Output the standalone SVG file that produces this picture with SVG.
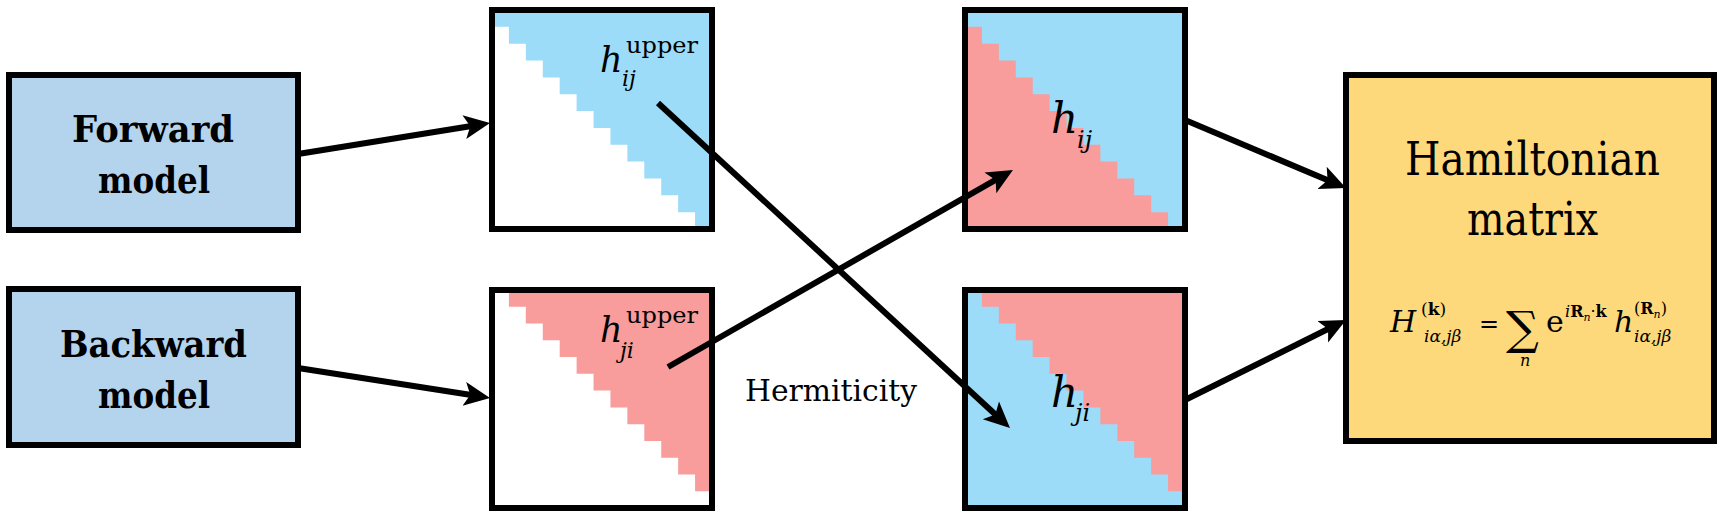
<svg xmlns="http://www.w3.org/2000/svg" xmlns:xlink="http://www.w3.org/1999/xlink" width="1725" height="520" viewBox="0 0 1725 520">
<style>
.box{stroke:#000;stroke-width:6;}
.frame{fill:none;stroke:#000;stroke-width:6;}
.model{fill:#B4D4EE;}
.ham{fill:#FDD97C;}
.blue{fill:#9CDCF8;}
.red{fill:#F89C9C;}
.lbl{font-family:'DejaVu Serif',serif;fill:#000;}
.bold{font-weight:bold;}
.it{font-style:italic;}
.conn{fill:none;stroke:#000;stroke-width:6;marker-end:url(#arrow);}
</style>
<defs>
<marker id="arrow" viewBox="0 0 26 26" refX="12" refY="13" markerWidth="26" markerHeight="26" markerUnits="userSpaceOnUse" orient="auto">
<path d="M0,1 L26,13 L0,25 L6,13 Z" fill="#000"/>
</marker>
<path id="upperIncl" d="M0,0 H13 V13 H12 V12 H11 V11 H10 V10 H9 V9 H8 V8 H7 V7 H6 V6 H5 V5 H4 V4 H3 V3 H2 V2 H1 V1 H0 Z"/>
<path id="upperStrict" d="M1,0 H13 V12 H12 V11 H11 V10 H10 V9 H9 V8 H8 V7 H7 V6 H6 V5 H5 V4 H4 V3 H3 V2 H2 V1 H1 Z"/>
</defs>

<g id="forward-model">
<rect class="box model" x="9" y="75" width="289" height="155"/>
<text class="lbl bold" x="72" y="142" font-size="37" textLength="162" lengthAdjust="spacingAndGlyphs">Forward</text>
<text class="lbl bold" x="98" y="193" font-size="37" textLength="112" lengthAdjust="spacingAndGlyphs">model</text>
</g>

<g id="backward-model">
<rect class="box model" x="9" y="289" width="289" height="156"/>
<text class="lbl bold" x="60" y="357" font-size="37" textLength="187" lengthAdjust="spacingAndGlyphs">Backward</text>
<text class="lbl bold" x="98" y="408" font-size="37" textLength="112" lengthAdjust="spacingAndGlyphs">model</text>
</g>

<g id="h-upper-ij">
<rect x="492" y="10" width="220" height="219" fill="#fff"/>
<use xlink:href="#upperIncl" class="blue" transform="translate(492,10) scale(16.923,16.846)"/>
<rect class="frame" x="492" y="10" width="220" height="219"/>
<text class="lbl it" x="600" y="72" font-size="35">h</text>
<text class="lbl" x="626" y="53" font-size="22" textLength="72" lengthAdjust="spacingAndGlyphs">upper</text>
<text class="lbl it" x="622" y="86" font-size="22">ij</text>
</g>

<g id="h-upper-ji">
<rect x="492" y="290" width="220" height="218" fill="#fff"/>
<use xlink:href="#upperStrict" class="red" transform="translate(492,290) scale(16.923,16.769)"/>
<rect class="frame" x="492" y="290" width="220" height="218"/>
<text class="lbl it" x="600" y="342" font-size="35">h</text>
<text class="lbl" x="626" y="323" font-size="22" textLength="72" lengthAdjust="spacingAndGlyphs">upper</text>
<text class="lbl it" x="620" y="358" font-size="22">ji</text>
</g>

<g id="h-ij">
<rect class="red" x="965" y="10" width="220" height="219"/>
<use xlink:href="#upperIncl" class="blue" transform="translate(965,10) scale(16.923,16.846)"/>
<rect class="frame" x="965" y="10" width="220" height="219"/>
<text class="lbl it" x="1051" y="133" font-size="42">h</text>
<text class="lbl it" x="1077" y="148" font-size="24">ij</text>
</g>

<g id="h-ji">
<rect class="blue" x="965" y="290" width="220" height="218"/>
<use xlink:href="#upperStrict" class="red" transform="translate(965,290) scale(16.923,16.769)"/>
<rect class="frame" x="965" y="290" width="220" height="218"/>
<text class="lbl it" x="1051" y="407" font-size="42">h</text>
<text class="lbl it" x="1075" y="421" font-size="24">ji</text>
</g>

<g id="hermiticity">
<text class="lbl" x="745" y="401" font-size="30" textLength="172" lengthAdjust="spacingAndGlyphs">Hermiticity</text>
</g>

<g id="hamiltonian-matrix">
<rect class="box ham" x="1346" y="75" width="368" height="366"/>
<text class="lbl" x="1405" y="175" font-size="47" textLength="255" lengthAdjust="spacingAndGlyphs">Hamiltonian</text>
<text class="lbl" x="1467" y="235" font-size="47" textLength="131" lengthAdjust="spacingAndGlyphs">matrix</text>
<g id="formula">
<text class="lbl it" x="1390" y="332" font-size="30">H<tspan x="1421" y="315" font-size="17" font-style="normal">(<tspan class="bold">k</tspan>)</tspan><tspan x="1424" y="342" font-size="17">iα,jβ</tspan></text>
<text class="lbl" x="1479" y="332" font-size="24">=</text>
<text class="lbl" x="1506" y="344" font-size="46">∑</text>
<text class="lbl it" x="1520" y="366" font-size="16">n</text>
<text class="lbl" x="1546" y="332" font-size="30">e</text>
<text class="lbl" x="1565" y="317" font-size="16"><tspan class="it">i</tspan><tspan class="bold">R</tspan><tspan class="it" font-size="11" dy="4">n</tspan><tspan dy="-4">·</tspan><tspan class="bold">k</tspan></text>
<text class="lbl it" x="1614" y="332" font-size="30">h<tspan x="1634" y="314" font-size="16" font-style="normal">(<tspan class="bold">R</tspan><tspan font-style="italic" font-size="11" dy="4">n</tspan><tspan dy="-4">)</tspan></tspan><tspan x="1634" y="342" font-size="17">iα,jβ</tspan></text>
</g>
</g>

<g id="connectors">
<line class="conn" x1="298" y1="154" x2="476.2" y2="125.3"/>
<line class="conn" x1="298" y1="368" x2="476.2" y2="395.8"/>
<line class="conn" x1="658" y1="103" x2="999.7" y2="418.5"/>
<line class="conn" x1="668" y1="367" x2="1000.8" y2="176.9"/>
<line class="conn" x1="1185" y1="120" x2="1333.1" y2="182.5"/>
<line class="conn" x1="1185" y1="400" x2="1333.5" y2="326.3"/>
</g>
</svg>
